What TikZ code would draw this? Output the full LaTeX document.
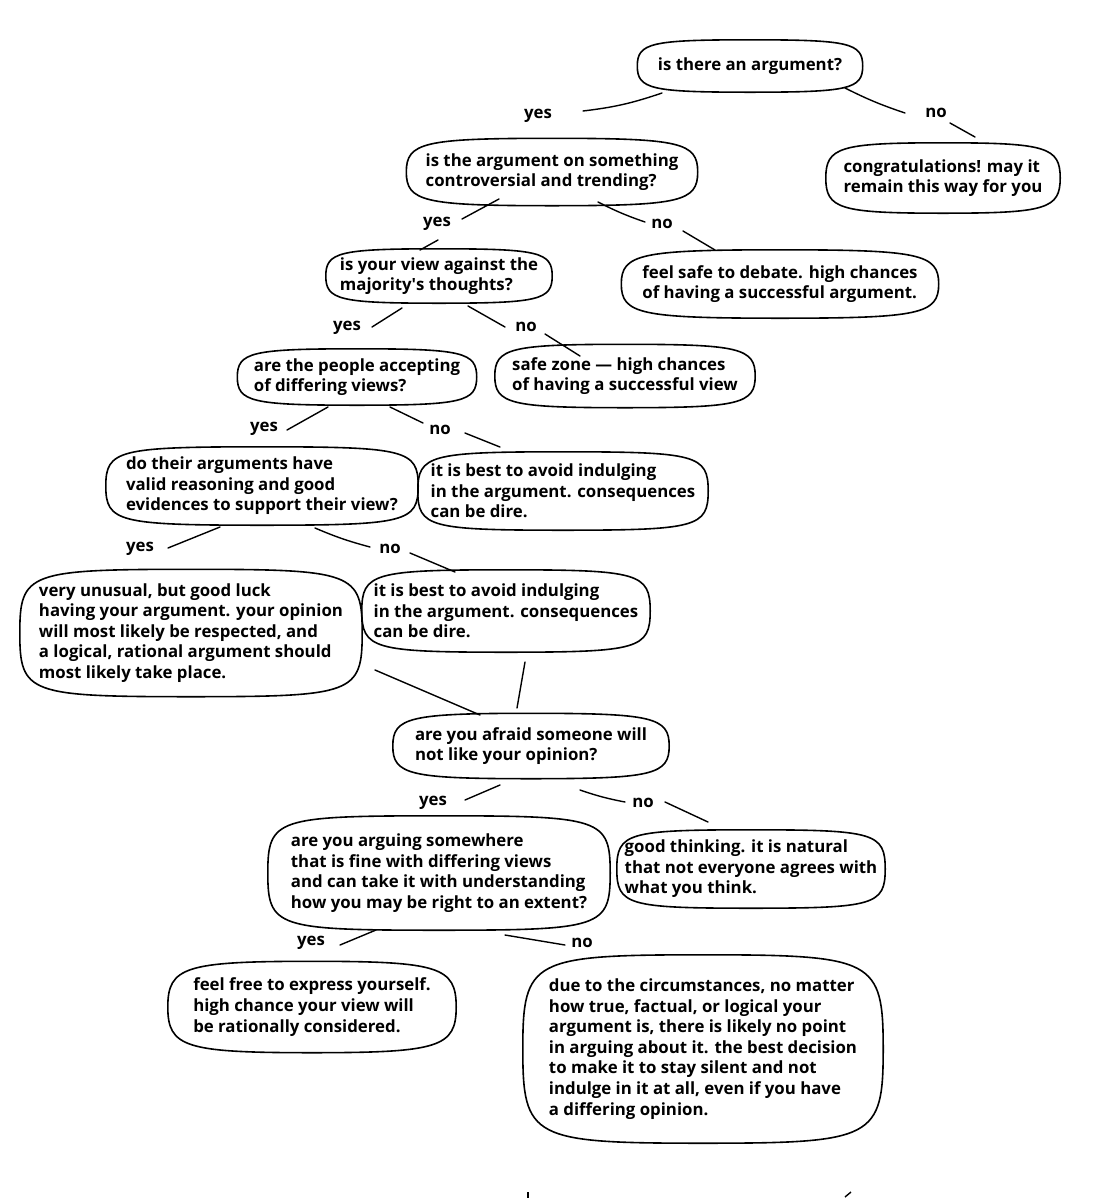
\documentclass[tikz,border=0pt]{standalone}
\usepackage{fontspec}
\setmainfont{Open Sans}
\usetikzlibrary{calc}
\newcommand\mybubble[2][0.9]{%
  \draw[bubline] (#2.north)
    .. controls ($(#2.north)!#1!(#2.north east)$) and ($(#2.east)!#1!(#2.north east)$) .. (#2.east)
    .. controls ($(#2.east)!#1!(#2.south east)$) and ($(#2.south)!#1!(#2.south east)$) .. (#2.south)
    .. controls ($(#2.south)!#1!(#2.south west)$) and ($(#2.west)!#1!(#2.south west)$) .. (#2.west)
    .. controls ($(#2.west)!#1!(#2.north west)$) and ($(#2.north)!#1!(#2.north west)$) .. (#2.north) -- cycle;}
\begin{document}
\begin{tikzpicture}[x=1pt,y=-1pt,
  every node/.style={font=\fontsize{16.8}{20.6}\selectfont\bfseries},
  bub/.style={align=left, inner sep=0pt},
  bubline/.style={line width=1.6pt, line join=round},
  lbl/.style={inner sep=1pt},
  con/.style={line width=1.4pt, line cap=round}]
\useasboundingbox[fill=white] (0,0) rectangle (1093,1200);

% bubbles
\node[bub, minimum width=225, minimum height=52] (q1) at (750,66) {is there an argument?};
\node[bub, minimum width=291, minimum height=67] (q2) at (552,172) {is the argument on something\\controversial and trending?};
\node[bub, minimum width=234, minimum height=70] (c1) at (943,178) {congratulations! may it\\remain this way for you};
\node[bub, minimum width=226, minimum height=54] (q3) at (439,276) {is your view against the\\majority\textquotesingle s thoughts?};
\node[bub, minimum width=317, minimum height=68] (s1) at (780,284) {feel safe to debate. high chances\\of having a successful argument.};
\node[bub, minimum width=239, minimum height=56] (q4) at (357,377) {are the people accepting\\of differing views?};
\node[bub, minimum width=260, minimum height=63] (s2) at (625,376) {safe zone — high chances\\of having a successful view};
\node[bub, minimum width=312, minimum height=78] (q5) at (262,486) {do their arguments have\\valid reasoning and good\\evidences to support their view?};
\node[bub, minimum width=290, minimum height=78] (a1) at (563,491) {it is best to avoid indulging\\in the argument. consequences\\can be dire.};
\node[bub, minimum width=342, minimum height=127] (r1) at (191,633) {very unusual, but good luck\\having your argument. your opinion\\will most likely be respected, and\\a logical, rational argument should\\most likely take place.};
\node[bub, minimum width=288, minimum height=82] (a2) at (506,611) {it is best to avoid indulging\\in the argument. consequences\\can be dire.};
\node[bub, minimum width=276, minimum height=65] (q6) at (531,746) {are you afraid someone will\\not like your opinion?};
\node[bub, minimum width=342, minimum height=114] (q7) at (439,873) {are you arguing somewhere\\that is fine with differing views\\and can take it with understanding\\how you may be right to an extent?};
\node[bub, minimum width=268, minimum height=78] (g1) at (751,869) {good thinking. it is natural\\that not everyone agrees with\\what you think.};
\node[bub, minimum width=288, minimum height=91] (f1) at (312,1007) {feel free to express yourself.\\high chance your view will\\be rationally considered.};
\node[bub, minimum width=360, minimum height=188] (d1) at (703,1049) {due to the circumstances, no matter\\how true, factual, or logical your\\argument is, there is likely no point\\in arguing about it. the best decision\\to make it to stay silent and not\\indulge in it at all, even if you have\\a differing opinion.};

\foreach \b in {q1,q2,c1,q3,s1,q4,s2,q6,f1}{\mybubble[0.88]{\b}}
\foreach \b in {q5,a1,a2,g1}{\mybubble[0.92]{\b}}
\foreach \b in {r1,q7,d1}{\mybubble[0.95]{\b}}

% labels
\node[lbl] (y1) at (538,116) {yes};
\node[lbl] (n1) at (936,113) {no};
\node[lbl] (y2) at (437,224) {yes};
\node[lbl] (n2) at (662,224) {no};
\node[lbl] (y3) at (347,328) {yes};
\node[lbl] (n3) at (526,327) {no};
\node[lbl] (y4) at (264,429) {yes};
\node[lbl] (n4) at (440,430) {no};
\node[lbl] (y5) at (140,549) {yes};
\node[lbl] (n5) at (390,549) {no};
\node[lbl] (y6) at (433,803) {yes};
\node[lbl] (n6) at (643,803) {no};
\node[lbl] (y7) at (311,943) {yes};
\node[lbl] (n7) at (582,943) {no};

% connectors
\draw[con] ([shift={(-88,27)}]q1.center) to[bend left=6] ([shift={(45,-5)}]y1.center);
\draw[con] ([shift={(95,22)}]q1.center) to[bend right=4] ([shift={(-31,0)}]n1.center);
\draw[con] ([shift={(14,10)}]n1.center) to ([shift={(32,-41)}]c1.center);
\draw[con] ([shift={(-53,27)}]q2.center) to ([shift={(25,-5)}]y2.center);
\draw[con] ([shift={(1,16)}]y2.center) to ([shift={(-19,-26)}]q3.center);
\draw[con] ([shift={(46,30)}]q2.center) to[bend right=4] ([shift={(-17,-2)}]n2.center);
\draw[con] ([shift={(21,7)}]n2.center) to ([shift={(-65,-34)}]s1.center);
\draw[con] ([shift={(-37,32)}]q3.center) to ([shift={(25,-1)}]y3.center);
\draw[con] ([shift={(29,30)}]q3.center) to ([shift={(-21,0)}]n3.center);
\draw[con] ([shift={(19,7)}]n3.center) to ([shift={(-45,-20)}]s2.center);
\draw[con] ([shift={(-29,30)}]q4.center) to ([shift={(23,1)}]y4.center);
\draw[con] ([shift={(33,30)}]q4.center) to ([shift={(-17,-7)}]n4.center);
\draw[con] ([shift={(25,3)}]n4.center) to ([shift={(-63,-44)}]a1.center);
\draw[con] ([shift={(-42,41)}]q5.center) to ([shift={(28,-1)}]y5.center);
\draw[con] ([shift={(53,42)}]q5.center) to[bend right=4] ([shift={(-20,-2)}]n5.center);
\draw[con] ([shift={(20,4)}]n5.center) to ([shift={(-51,-39)}]a2.center);
\draw[con] ([shift={(184,37)}]r1.center) to ([shift={(-51,-31)}]q6.center);
\draw[con] ([shift={(19,51)}]a2.center) to ([shift={(-14,-38)}]q6.center);
\draw[con] ([shift={(-31,39)}]q6.center) to ([shift={(32,-3)}]y6.center);
\draw[con] ([shift={(49,44)}]q6.center) to[bend right=4] ([shift={(-18,-1)}]n6.center);
\draw[con] ([shift={(22,-1)}]n6.center) to ([shift={(-43,-47)}]g1.center);
\draw[con] ([shift={(-63,57)}]q7.center) to ([shift={(29,2)}]y7.center);
\draw[con] ([shift={(66,62)}]q7.center) to ([shift={(-17,2)}]n7.center);

% stray marks at bottom edge
\draw[line width=1.4pt] (528,1192) -- (528,1198);
\draw[line width=1.4pt] (845,1197) -- (851,1192);
\end{tikzpicture}
\end{document}
